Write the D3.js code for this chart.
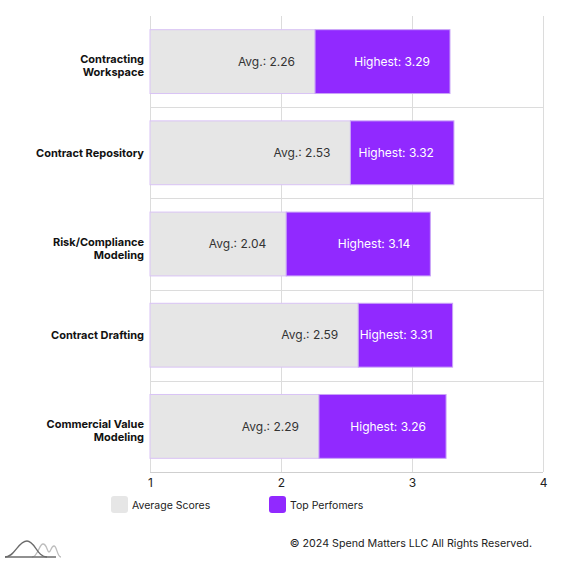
<!DOCTYPE html>
<html>
<head>
<meta charset="utf-8">
<script src="https://cdn.jsdelivr.net/npm/d3@7"></script>
<style>
  body { margin: 0; background: #fff; }
  svg text { font-family: Inter, "Noto Sans", sans-serif; }
</style>
</head>
<body>
<svg id="chart" width="563" height="563"></svg>
<script>
// data
const categories = [
  ["Contracting", "Workspace"],
  ["Contract Repository"],
  ["Risk/Compliance", "Modeling"],
  ["Contract Drafting"],
  ["Commercial Value", "Modeling"]
];
const avgScores = [2.26, 2.53, 2.04, 2.59, 2.29];
const topScores = [3.29, 3.32, 3.14, 3.31, 3.26];
const xTicks = [1, 2, 3, 4];
const legendLabels = ["Average Scores", "Top Perfomers"];

const grey = "#e6e6e6";
const purple = "#9129ff";

const svg = d3.select("#chart");
const margin = { top: 16, right: 20, bottom: 91, left: 150 };
const width = 563 - margin.left - margin.right;
const height = 563 - margin.top - margin.bottom;
const g = svg.append("g").attr("transform", `translate(${margin.left},${margin.top})`);

const x = d3.scaleLinear().domain([1, 4]).range([0, width]);
const y = d3.scaleBand().domain(d3.range(categories.length)).range([0, height]).paddingInner(0.3).paddingOuter(0.15);

// vertical grid
g.append("g")
  .selectAll("line")
  .data(xTicks)
  .join("line")
  .attr("x1", d => x(d) + 0.5).attr("x2", d => x(d) + 0.5)
  .attr("y1", 0).attr("y2", height)
  .attr("stroke", "#dcdcdc");

// horizontal separators between categories
const step = y.step();
const sepY = i => Math.round(y(i) - y.paddingOuter() * step + step) + 0.5;
g.append("g")
  .selectAll("line")
  .data(d3.range(categories.length))
  .join("line")
  .attr("x1", 0).attr("x2", width)
  .attr("y1", sepY).attr("y2", sepY)
  .attr("stroke", i => i === categories.length - 1 ? "#cfcfcf" : "#dcdcdc");

// avg bars
g.append("g")
  .selectAll("rect")
  .data(avgScores)
  .join("rect")
  .attr("x", x(1))
  .attr("y", (d, i) => y(i))
  .attr("width", d => x(d) - x(1))
  .attr("height", y.bandwidth())
  .attr("fill", grey)
  .attr("stroke", "#d9c3f5")
  .attr("stroke-width", 1);

// top performer bars, stacked from avg to highest
g.append("g")
  .selectAll("rect")
  .data(topScores)
  .join("rect")
  .attr("x", (d, i) => x(avgScores[i]))
  .attr("y", (d, i) => y(i))
  .attr("width", (d, i) => x(d) - x(avgScores[i]))
  .attr("height", y.bandwidth())
  .attr("fill", purple)
  .attr("stroke", "#c9a3f7")
  .attr("stroke-width", 1);

// bar labels
g.append("g")
  .selectAll("text")
  .data(avgScores)
  .join("text")
  .attr("x", d => x(d) - 20)
  .attr("y", (d, i) => y(i) + y.bandwidth() / 2)
  .attr("dy", "0.35em")
  .attr("text-anchor", "end")
  .attr("font-size", 12)
  .attr("fill", "#333")
  .text(d => "Avg.: " + d.toFixed(2));

g.append("g")
  .selectAll("text")
  .data(topScores)
  .join("text")
  .attr("x", d => x(d) - 20)
  .attr("y", (d, i) => y(i) + y.bandwidth() / 2)
  .attr("dy", "0.35em")
  .attr("text-anchor", "end")
  .attr("font-size", 12)
  .attr("fill", "#fff")
  .text(d => "Highest: " + d.toFixed(2));

// category labels
const cat = g.append("g")
  .selectAll("text")
  .data(categories)
  .join("text")
  .attr("x", -6)
  .attr("y", (d, i) => y(i) + y.bandwidth() / 2)
  .attr("text-anchor", "end")
  .attr("font-size", 11)
  .attr("font-weight", 700)
  .attr("fill", "#111");
cat.selectAll("tspan")
  .data(d => d.map((t, j) => ({ t, j, n: d.length })))
  .join("tspan")
  .attr("x", -6)
  .attr("dy", d => d.j === 0 ? (d.n > 1 ? 1.5 : 3.8) : 13)
  .text(d => d.t);

// x axis
const xAxis = g.append("g")
  .attr("transform", `translate(0,${height})`)
  .call(d3.axisBottom(x).tickValues(xTicks).tickFormat(d3.format("d")).tickSize(0).tickPadding(6));
xAxis.select(".domain").remove();
xAxis.selectAll("text")
  .attr("font-size", 12)
  .attr("fill", "#222")
  .style("font-family", "Inter, sans-serif");

// legend
const legend = svg.append("g").attr("transform", "translate(111,496)");
const legendX = [0, 158];
const legendColors = [grey, purple];
legendLabels.forEach((lab, i) => {
  const lg = legend.append("g").attr("transform", `translate(${legendX[i]},0)`);
  lg.append("rect").attr("width", 17).attr("height", 17).attr("rx", 3).attr("fill", legendColors[i]);
  lg.append("text").attr("x", 21).attr("y", 9).attr("dy", "0.35em")
    .attr("font-size", 10.5).attr("fill", "#222").text(lab);
});

// footer
svg.append("text")
  .attr("x", 532).attr("y", 543).attr("dy", "0.35em")
  .attr("text-anchor", "end")
  .attr("font-size", 10.7)
  .attr("fill", "#222")
  .text("© 2024 Spend Matters LLC All Rights Reserved.");

// little logo, two humps
const logo = svg.append("g").attr("transform", "translate(5,530)");
logo.append("path")
  .attr("d", "M27,27 C33,27 34,14 38,14 C42,14 42,22 44,22 C46,22 46,16 49,16 C52,16 52,27 56,27")
  .attr("fill", "none").attr("stroke", "#bdbdbd").attr("stroke-width", 1.3);
logo.append("path")
  .attr("d", "M0,27 C10,27 13,11 22,11 C30,11 32,27 42,27")
  .attr("fill", "none").attr("stroke", "#6b6b6b").attr("stroke-width", 1.3);
logo.append("line").attr("x1", 0).attr("x2", 51).attr("y1", 27).attr("y2", 27)
  .attr("stroke", "#6b6b6b").attr("stroke-width", 1.3);
</script>
</body>
</html>
